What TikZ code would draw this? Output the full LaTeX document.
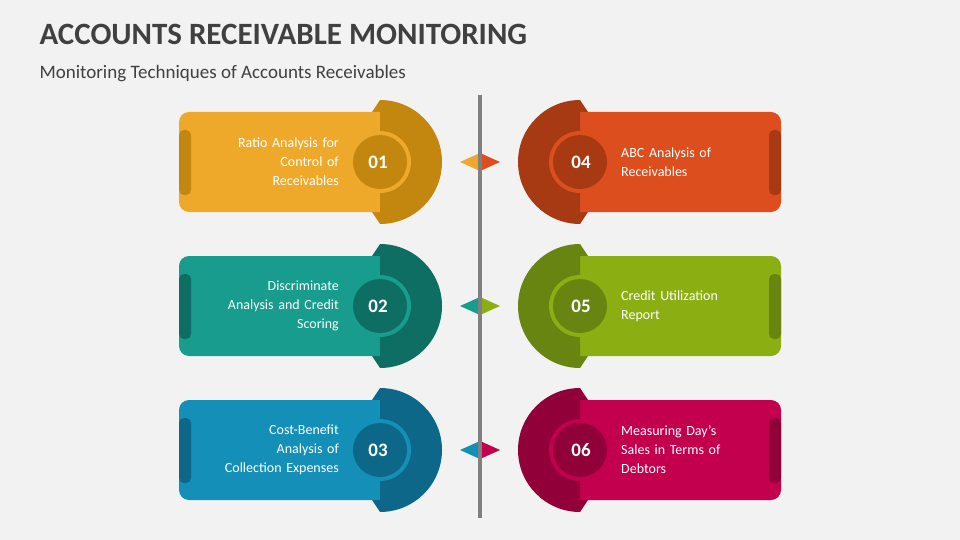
\documentclass[tikz,border=0pt]{standalone}
\usepackage{fontspec}
\setmainfont{Carlito}
\definecolor{cA}{HTML}{EEA92A}\definecolor{dA}{HTML}{C3860F}
\definecolor{cB}{HTML}{179C8E}\definecolor{dB}{HTML}{0E6E64}
\definecolor{cC}{HTML}{1490B8}\definecolor{dC}{HTML}{0D6789}
\definecolor{cD}{HTML}{DD4E1F}\definecolor{dD}{HTML}{A83A13}
\definecolor{cE}{HTML}{8BAF12}\definecolor{dE}{HTML}{678510}
\definecolor{cF}{HTML}{C2004D}\definecolor{dF}{HTML}{920039}
\tikzset{lbl/.style={text=white,font=\fontsize{14}{19}\selectfont,align=#1,text width=120pt,inner sep=0pt},
num/.style={text=white,font=\bfseries\fontsize{19}{19}\selectfont}}
\newcommand\leftitem[6]{% y, light, dark, num, text, name
 \fill[#3] (372,#1-50) -- (380,#1-62) -- (380,#1-50) -- cycle;
 \fill[#3] (372,#1+50) -- (380,#1+62) -- (380,#1+50) -- cycle;
 \fill[#2,rounded corners=10pt] (179,#1-50) rectangle (400,#1+50);
 \fill[#3,rounded corners=5pt] (179,#1-32) rectangle (191,#1+33);
 \fill[#3] (380,#1-62) arc[start angle=-90,end angle=90,radius=62] -- cycle;
 \fill[#2] (380,#1) circle (31);
 \fill[#3] (380,#1) circle (27);
 \node[num] (n#6) at (378,#1) {#4};
 \node[lbl=right,anchor=east] (t#6) at (339,#1) {#5};
 \fill[#2] (460,#1) -- (480,#1-9) -- (480,#1+9) -- cycle;
}
\newcommand\rightitem[6]{%
 \fill[#3] (588,#1-50) -- (580,#1-62) -- (580,#1-50) -- cycle;
 \fill[#3] (588,#1+50) -- (580,#1+62) -- (580,#1+50) -- cycle;
 \fill[#2,rounded corners=10pt] (560,#1-50) rectangle (781,#1+50);
 \fill[#3,rounded corners=5pt] (769,#1-32) rectangle (781,#1+33);
 \fill[#3] (580,#1-62) arc[start angle=-90,end angle=-270,radius=62] -- cycle;
 \fill[#2] (580,#1) circle (31);
 \fill[#3] (580,#1) circle (27);
 \node[num] (n#6) at (581,#1) {#4};
 \node[lbl=left,anchor=west] (t#6) at (621,#1) {#5};
 \fill[#2] (500,#1) -- (480,#1-9) -- (480,#1+9) -- cycle;
}
\begin{document}
\begin{tikzpicture}[x=1pt,y=-1pt]
\fill[white!95!black] (0,0) rectangle (960,540);
\useasboundingbox (0,0) rectangle (960,540);
\node[anchor=west,font=\bfseries\fontsize{31}{31}\selectfont,text=black!75] (title) at (36,34) {ACCOUNTS RECEIVABLE MONITORING};
\node[anchor=west,font=\fontsize{19}{19}\selectfont,text=black!75] (sub) at (36,74) {Monitoring Techniques of Accounts Receivables};
\leftitem{162}{cA}{dA}{01}{Ratio Analysis for\\Control of\\Receivables}{a}
\leftitem{306}{cB}{dB}{02}{Discriminate\\Analysis and Credit\\Scoring}{b}
\leftitem{450}{cC}{dC}{03}{Cost-Benefit\\Analysis of\\Collection Expenses}{c}
\rightitem{162}{cD}{dD}{04}{ABC Analysis of\\Receivables}{d}
\rightitem{306}{cE}{dE}{05}{Credit Utilization\\Report}{e}
\rightitem{450}{cF}{dF}{06}{Measuring Day’s\\Sales in Terms of\\Debtors}{f}
\coordinate (top) at (480,95); \coordinate (bot) at (480,518);
\draw[line width=3.5pt,black!50] (top) -- (bot);
\end{tikzpicture}
\end{document}
